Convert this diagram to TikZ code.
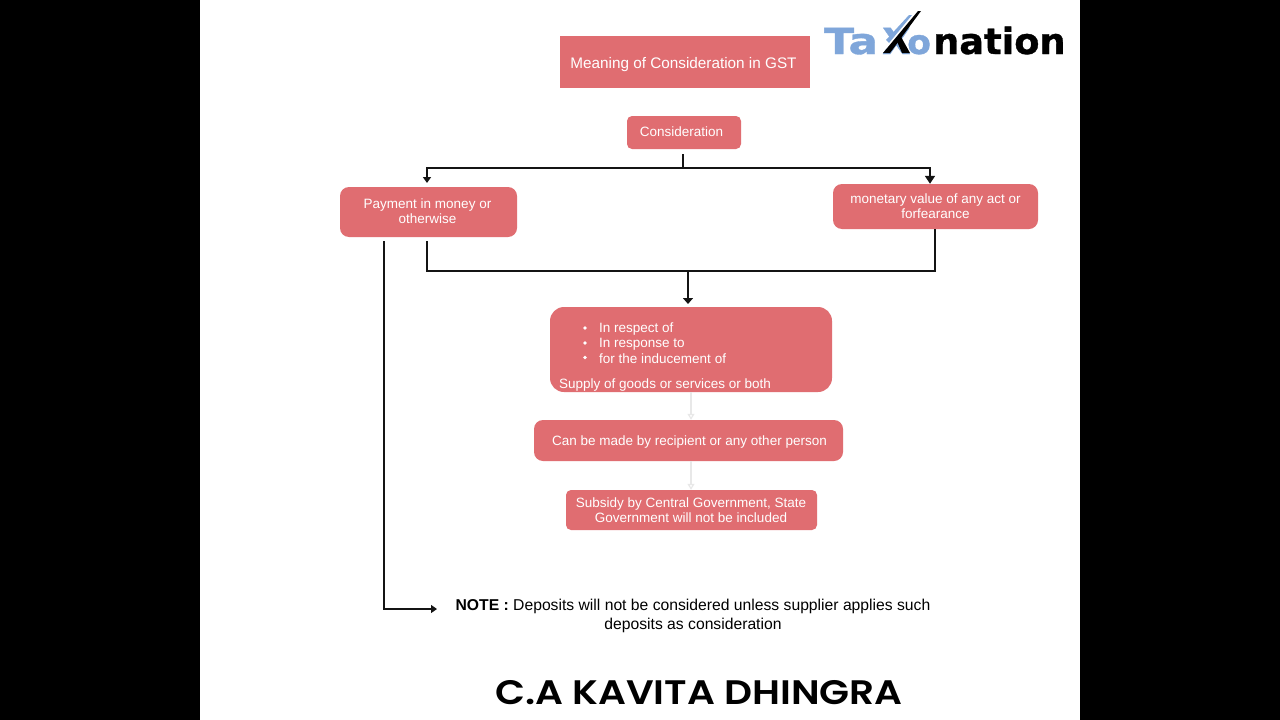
\documentclass[tikz,border=0pt]{standalone}
\usepackage{fontspec}
\setmainfont{Liberation Sans}
\newfontfamily\logowide[FakeStretch=1.22,FakeBold=1]{DejaVu Sans Bold}
\newfontfamily\logofont[FakeStretch=1.02,FakeBold=1]{DejaVu Sans Bold}
\newfontfamily\signfont[FakeStretch=1.147]{Poppins SemiBold}
\usetikzlibrary{arrows.meta,positioning,calc}
\definecolor{boxred}{HTML}{E06D71}
\definecolor{logoblue}{HTML}{7FA6DA}
\definecolor{softline}{HTML}{E8E8E8}
\definecolor{inkblack}{HTML}{141414}
\tikzset{
  x=1pt,y=-1pt,
  boxbase/.style={fill=boxred,draw=none,text=white,inner sep=0pt,align=center,font=\fontsize{13.5}{15}\selectfont},
  roundbox/.style={boxbase,rounded corners=9pt},
  smallround/.style={boxbase,rounded corners=5pt},
  flow/.style={draw=inkblack,line width=1.6pt,-{Triangle[length=6pt,width=8pt]}},
  flowplain/.style={draw=inkblack,line width=1.6pt},
  softflow/.style={draw=softline,line width=1.2pt,-{Triangle[open,length=6pt,width=7pt]}},
  plaintext/.style={inner sep=0pt,align=center,text=black},
  boxtext/.style={plaintext,text=white,anchor=west,font=\fontsize{13.5}{15}\selectfont},
  logotext/.style={inner sep=0pt,anchor=base west,font=\logowide\fontsize{36}{36}\selectfont},
}
\begin{document}
\begin{tikzpicture}
\useasboundingbox (0,0) rectangle (1280,720);
\fill[black] (0,0) rectangle (1280,720);
\fill[white] (200,0) rectangle (1080,720);
% boxes
\node[boxbase,minimum width=250pt,minimum height=52pt] (title) at (685,62) {};
\node[plaintext,text=white,font=\fontsize{15.3}{16}\selectfont] (titletext) at (683.5,64.5) {Meaning of Consideration in GST};
\node[smallround,minimum width=114pt,minimum height=33pt] (cons) at (684,132.5) {};
\node[plaintext,text=white,font=\fontsize{13.5}{15}\selectfont] (constext) at (681.5,132) {Consideration};
\node[roundbox,minimum width=177pt,minimum height=50pt] (pay) at (428.5,212) {};
\node[plaintext,text=white,font=\fontsize{13.5}{15}\selectfont] (paytext) at (427.5,211) {Payment in money or\\otherwise};
\node[roundbox,minimum width=205pt,minimum height=45pt] (mon) at (935.5,206.5) {};
\node[plaintext,text=white,font=\fontsize{13.5}{15}\selectfont] (montext) at (935.5,206.5) {monetary value of any act or\\forfearance};
\node[boxbase,rounded corners=14pt,minimum width=282pt,minimum height=85pt] (resp) at (691,349.5) {};
\node[boxtext] (b1) at (599,329) {In respect of};
\node[boxtext] (b2) at (599,344) {In response to};
\node[boxtext] (b3) at (599,358.5) {for the inducement of};
\fill[white] (585,328) circle (1.8pt) (585,343) circle (1.8pt) (585,357.5) circle (1.8pt);
\node[boxtext] (b4) at (559,385) {Supply of goods or services or both};
\node[roundbox,minimum width=309pt,minimum height=41pt] (made) at (688.5,440.5) {};
\node[plaintext,text=white,font=\fontsize{13.5}{15}\selectfont] (madetext) at (689.5,442) {Can be made by recipient or any other person};
\node[smallround,minimum width=251pt,minimum height=40pt] (sub) at (691.5,510) {};
\node[plaintext,text=white,font=\fontsize{13.5}{15}\selectfont] (subtext) at (691,510) {Subsidy by Central Government, State\\Government will not be included};
\node[plaintext,font=\fontsize{15.7}{19}\selectfont] (note) at (693,616) {\textbf{NOTE :} Deposits will not be considered unless supplier applies such\\deposits as consideration};
\node[plaintext,font=\signfont\fontsize{34}{34}\selectfont] (sign) at (699,693) {C.A KAVITA DHINGRA};
% connectors
\coordinate (junc) at (683,168);
\coordinate (notein) at (437,609);
\coordinate (payleft) at (384,241);
\coordinate (paymid) at (427,241);
\coordinate (merge) at (688,271);
\coordinate (mergeend) at (688,304);
\draw[flowplain,line width=1.2pt] (683,154) -- (junc);
\draw[flow] (junc) -- (427,168) -- (427,183);
\draw[flow,-{Triangle[length=8pt,width=10pt]}] (junc) -- (930,168) -- (mon.north -| 930,0);
\draw[flowplain] (paymid) -- (427,271) -- (935,271) -- (mon.south -| 935,0);
\draw[flow,line width=2.6pt,-{Triangle[length=6pt,width=10pt]}] (merge) -- (mergeend);
\draw[flow,line width=1.2pt] (payleft) -- (384,609) -- (notein);
\draw[softflow] (resp.south -| 691,0) -- (made.north -| 691,0);
\draw[softflow] (made.south -| 691,0) -- (sub.north -| 691,0);
% logo
\node[logotext,text=logoblue] (ta) at (824,54) {Ta};
\node[logotext,text=logoblue,font=\logofont\fontsize{36}{36}\selectfont] (xx) at (882,54) {X};
\node[logotext,text=logoblue,font=\logofont\fontsize{34}{34}\selectfont] (oo) at (907,54) {o};
\node[logotext,text=black,font=\logofont\fontsize{36}{36}\selectfont] (nation) at (933,54) {nation};
\fill[white] (884,46) -- (888,50) -- (914,14) -- (910,14) -- cycle;
\fill[logoblue] (886,40) -- (889,43) -- (912,15) -- (909,15) -- cycle;
\fill[black] (883,53) -- (890,53) -- (921,11) -- (918,11) -- cycle;
\fill[black] (896,39) -- (900,35) -- (910,53) -- (902,53) -- cycle;
\end{tikzpicture}
\end{document}
